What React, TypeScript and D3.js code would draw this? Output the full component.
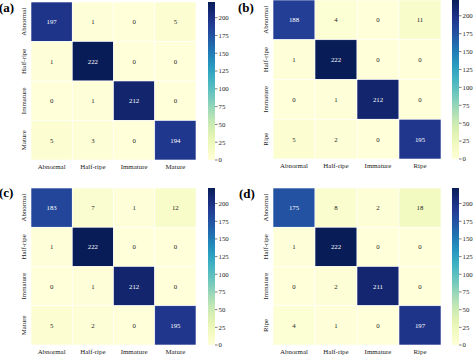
import React from "react";
import * as d3 from "d3";

const labelsMature = ["Abnormal", "Half-ripe", "Immature", "Mature"];
const labelsRipe = ["Abnormal", "Half-ripe", "Immature", "Ripe"];

const matrixA = [
  [197, 1, 0, 5],
  [1, 222, 0, 0],
  [0, 1, 212, 0],
  [5, 3, 0, 194],
];
const matrixB = [
  [188, 4, 0, 11],
  [1, 222, 0, 0],
  [0, 1, 212, 0],
  [5, 2, 0, 195],
];
const matrixC = [
  [183, 7, 1, 12],
  [1, 222, 0, 0],
  [0, 1, 212, 0],
  [5, 2, 0, 195],
];
const matrixD = [
  [175, 8, 2, 18],
  [1, 222, 0, 0],
  [0, 2, 211, 0],
  [4, 1, 0, 197],
];

const colorTicks = [0, 25, 50, 75, 100, 125, 150, 175, 200];
const vmin = 0;
const vmax = 222;

const FONT = "'Liberation Serif', 'Times New Roman', Times, serif";

const color = d3.scaleSequential(d3.interpolateYlGnBu).domain([vmin, vmax]);

function luminance(c: string) {
  const rgb = d3.rgb(c);
  const f = (v: number) => {
    v = v / 255;
    return v <= 0.03928 ? v / 12.92 : Math.pow((v + 0.055) / 1.055, 2.4);
  };
  return 0.2126 * f(rgb.r) + 0.7152 * f(rgb.g) + 0.0722 * f(rgb.b);
}

type PanelProps = {
  id: string;
  tag: string;
  tagX: number;
  tagY: number;
  data: number[][];
  labels: string[];
  x0: number;
  x1: number;
  y0: number;
  y1: number;
  cbX: number;
};

function Panel(p: PanelProps) {
  const x = d3.scaleBand<number>().domain(d3.range(4)).range([p.x0, p.x1]);
  const y = d3.scaleBand<number>().domain(d3.range(4)).range([p.y0, p.y1]);
  const cb = d3.scaleLinear().domain([vmin, vmax]).range([p.y1, p.y0]);
  const cbW = 7;
  const gradId = "grad-" + p.id;
  const stops = d3.range(0, 1.0001, 0.05);
  return (
    <g>
      <defs>
        <linearGradient id={gradId} x1="0" y1="1" x2="0" y2="0">
          {stops.map((t) => (
            <stop key={t} offset={t} stopColor={d3.interpolateYlGnBu(t)} />
          ))}
        </linearGradient>
      </defs>
      {p.data.map((row, i) =>
        row.map((v, j) => {
          const fill = color(v);
          const txt = luminance(fill) > 0.408 ? "#262626" : "#ffffff";
          return (
            <g key={i + "-" + j}>
              <rect
                x={x(j)}
                y={y(i)}
                width={x.bandwidth()}
                height={y.bandwidth()}
                fill={fill}
                stroke="#ffffff"
                strokeWidth={0.6}
              />
              <text
                x={(x(j) as number) + x.bandwidth() / 2}
                y={(y(i) as number) + y.bandwidth() / 2}
                dy="0.35em"
                textAnchor="middle"
                fontSize={6.8}
                fontFamily={FONT}
                fill={txt}
              >
                {v}
              </text>
            </g>
          );
        })
      )}
      {p.labels.map((l, j) => (
        <text
          key={"xl" + j}
          x={(x(j) as number) + x.bandwidth() / 2}
          y={p.y1 + 9}
          textAnchor="middle"
          fontSize={6.9}
          fontFamily={FONT}
          fill="#1a1a1a"
        >
          {l}
        </text>
      ))}
      {p.labels.map((l, i) => (
        <text
          key={"yl" + i}
          transform={`translate(${p.x0 - 5},${(y(i) as number) + y.bandwidth() / 2}) rotate(-90)`}
          textAnchor="middle"
          fontSize={6.9}
          fontFamily={FONT}
          fill="#1a1a1a"
        >
          {l}
        </text>
      ))}
      <rect x={p.cbX} y={p.y0} width={cbW} height={p.y1 - p.y0} fill={`url(#${gradId})`} />
      {colorTicks.map((t) => (
        <g key={"ct" + t}>
          <line
            x1={p.cbX + cbW}
            x2={p.cbX + cbW + 2.5}
            y1={cb(t)}
            y2={cb(t)}
            stroke="#262626"
            strokeWidth={0.6}
          />
          <text
            x={p.cbX + cbW + 3.5}
            y={cb(t)}
            dy="0.35em"
            fontSize={6.8}
            fontFamily={FONT}
            fill="#1a1a1a"
          >
            {t}
          </text>
        </g>
      ))}
      <text
        x={p.tagX}
        y={p.tagY}
        fontSize={13}
        fontWeight="bold"
        fontFamily={FONT}
        fill="#000"
      >
        {p.tag}
      </text>
    </g>
  );
}

export default function App() {
  return (
    <svg
      width={474}
      height={357}
      style={{ position: "absolute", left: 0, top: 0, background: "#fff" }}
    >
      <Panel id="a" tag="(a)" tagX={-1} tagY={12} data={matrixA} labels={labelsMature} x0={31} x1={196} y0={2} y1={160} cbX={208} />
      <Panel id="b" tag="(b)" tagX={238} tagY={12} data={matrixB} labels={labelsRipe} x0={273} x1={441} y0={0} y1={159} cbX={452} />
      <Panel id="c" tag="(c)" tagX={-1} tagY={197} data={matrixC} labels={labelsMature} x0={31} x1={196} y0={188} y1={345} cbX={208} />
      <Panel id="d" tag="(d)" tagX={239} tagY={198} data={matrixD} labels={labelsRipe} x0={273} x1={441} y0={188} y1={345} cbX={452} />
    </svg>
  );
}
